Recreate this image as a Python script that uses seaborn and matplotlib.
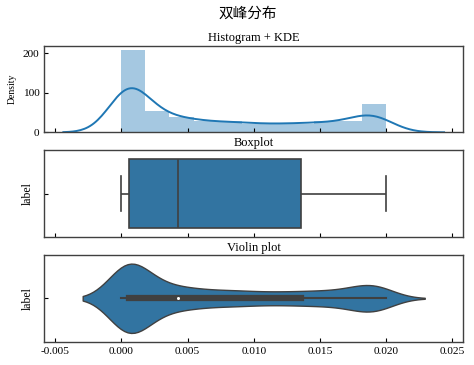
import numpy as np
import matplotlib
matplotlib.use("Agg")
import matplotlib.pyplot as plt
import seaborn as sns

# ---------------------------------------------------------------
# data (sample values read off the histogram / box / violin)
# ---------------------------------------------------------------
values = [
    # first bin (peak near zero)
    0.0000, 0.0000, 0.0001, 0.0001, 0.0001, 0.0001, 0.0002, 0.0002,
    0.0002, 0.0002, 0.0003, 0.0003, 0.0003, 0.0003, 0.0003, 0.0004,
    0.0004, 0.0004, 0.0004, 0.0004, 0.0005, 0.0005, 0.0005, 0.0005,
    0.0005, 0.0006, 0.0006, 0.0007, 0.0008, 0.0008, 0.0009, 0.0010,
    0.0011, 0.0012, 0.0013, 0.0014, 0.0016, 0.0017,
    # shoulder
    0.0019, 0.0020, 0.0021, 0.0023, 0.0025, 0.0027, 0.0029, 0.0031,
    0.0033, 0.0035,
    0.0038, 0.0042, 0.0044, 0.0046, 0.0049, 0.0051, 0.0054,
    # flat middle
    0.0056, 0.0060, 0.0064, 0.0068, 0.0072,
    0.0075, 0.0079, 0.0083, 0.0086, 0.0090,
    0.0093, 0.0098, 0.0102, 0.0107,
    0.0112, 0.0117, 0.0121, 0.0125,
    0.0130, 0.0135, 0.0138, 0.0143,
    0.0147, 0.0151, 0.0154, 0.0158, 0.0162,
    0.0166, 0.0170, 0.0174, 0.0177, 0.0180,
    # second peak
    0.0182, 0.0184, 0.0186, 0.0188, 0.0189, 0.0190, 0.0191, 0.0192,
    0.0193, 0.0194, 0.0196, 0.0198, 0.0200,
]

SUPTITLE = "双峰分布"
TITLES = ["Histogram + KDE", "Boxplot", "Violin plot"]
N_BINS = 11
TARGET_BW = 0.00146   # kernel bandwidth seen in the picture

# ---------------------------------------------------------------
# style
# ---------------------------------------------------------------
plt.rcParams.update({
    "font.family": ["Liberation Serif", "Noto Sans CJK SC"],
    "axes.unicode_minus": False,
    "axes.edgecolor": "0.25",
    "axes.linewidth": 1.0,
    "xtick.direction": "in",
    "ytick.direction": "in",
    "xtick.major.size": 3,
    "ytick.major.size": 3,
    "xtick.labelsize": 8.2,
    "ytick.labelsize": 8.2,
})

x = np.array(values)
scott = np.std(x, ddof=1) * len(x) ** (-1 / 5)
bw_adj = TARGET_BW / scott

fig, axes = plt.subplots(3, 1, figsize=(4.74, 3.65), dpi=100, sharex=True)
fig.subplots_adjust(left=0.0935, right=0.977, top=0.875, bottom=0.064, hspace=0.207)

# histogram + kde
ax = axes[0]
sns.histplot(x=x, bins=N_BINS, stat="density", kde=True, color="C0",
             alpha=0.4, linewidth=0, ax=ax,
             kde_kws={"cut": 3, "bw_adjust": bw_adj},
             line_kws={"linewidth": 1.4})
ax.set_title(TITLES[0], fontsize=9, pad=3)
ax.set_ylabel("Density", fontsize=7)

# boxplot
ax = axes[1]
sns.boxplot(x=x, ax=ax, linecolor="0.25", linewidth=1.2)
ax.set_title(TITLES[1], fontsize=9, pad=3)
ax.set_yticks([0])
ax.set_yticklabels([""])
ax.set_ylabel("label", fontsize=8.5)

# violin
ax = axes[2]
sns.violinplot(x=x, ax=ax, bw_adjust=bw_adj, cut=2, inner="box",
               linecolor="0.25", linewidth=1.0)
# median as a small white dot (older seaborn look)
for ln in ax.lines:
    if ln.get_marker() in ("|", "_"):
        ln.set_marker("o")
        ln.set_markersize(2.2)
        ln.set_markeredgewidth(0)
ax.set_title(TITLES[2], fontsize=9, pad=3)
ax.set_yticks([0])
ax.set_yticklabels([""])
ax.set_ylabel("label", fontsize=8.5)

for ax in axes:
    ax.tick_params(top=False, right=False)

fig.suptitle(SUPTITLE, fontsize=10.5, x=0.522, y=0.963, va="center",
             family=["Noto Sans CJK SC", "DejaVu Sans"])

plt.savefig("out.png", dpi=100)
plt.close()
